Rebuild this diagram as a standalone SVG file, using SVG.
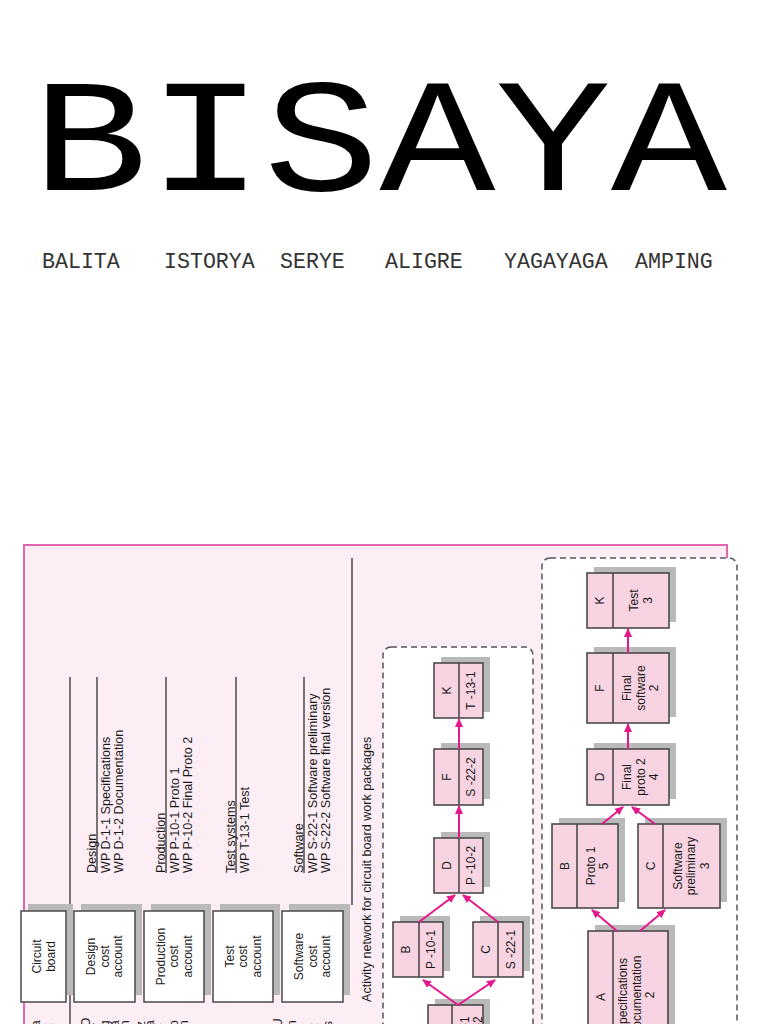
<svg xmlns="http://www.w3.org/2000/svg" width="768" height="1024" viewBox="0 0 768 1024">
<style>
.mono{font-family:'Liberation Mono','DejaVu Sans Mono',monospace;fill:#000}
.menu{fill:#333}
.t{font-family:'Liberation Sans',Arial,sans-serif;font-size:12px;fill:#1a1a1a}
.big{font-size:12.6px}
.c{text-anchor:middle}
.wb{fill:#fff;stroke:#4a4a4a;stroke-width:1.5}
.sh{fill:#b9b9b9}
.nd{fill:#f8d3e1;stroke:#4a4a4a;stroke-width:1.6}
.dv{stroke:#4a4a4a;stroke-width:1.6}
.ln{stroke:#555;stroke-width:1.6;fill:none}
.dash{fill:#fff;stroke:#555;stroke-width:1.5;stroke-dasharray:6 4}
.ar{stroke:#e5178b;stroke-width:2;fill:none;marker-end:url(#ah)}
</style>
<defs>
<marker id="ah" markerUnits="userSpaceOnUse" markerWidth="9" markerHeight="8" refX="8" refY="4" orient="auto">
<path d="M0,0 L9,4 L0,8 z" fill="#e5178b"/>
</marker>
</defs>
<rect width="768" height="1024" fill="#fff"/>
<g id="title">
<text class="mono" font-size="193" transform="translate(32,190) scale(1,0.84)">BISAYA</text>
</g>
<g id="menu" class="mono menu" font-size="21.6">
<text x="42" y="268">BALITA</text>
<text x="164" y="268">ISTORYA</text>
<text x="280" y="268">SERYE</text>
<text x="385" y="268">ALIGRE</text>
<text x="504" y="268">YAGAYAGA</text>
<text x="635" y="268">AMPING</text>
</g>
<g id="frame">
<rect x="24" y="545" width="703" height="520" fill="#fdeef5" stroke="#e466b0" stroke-width="2"/>
<line x1="352" y1="558" x2="352" y2="905" class="ln"/>
<line x1="70" y1="677" x2="70" y2="1030" class="ln"/>
<line x1="97" y1="677" x2="97" y2="873" class="ln"/>
<line x1="166" y1="677" x2="166" y2="873" class="ln"/>
<line x1="236" y1="677" x2="236" y2="873" class="ln"/>
<line x1="304" y1="677" x2="304" y2="873" class="ln"/>
</g>
<g id="wbs-text" class="t big">
<text transform="translate(96,873) rotate(-90)"><tspan x="0">Design</tspan><tspan x="0" dy="13.5">WP D-1-1 Specifications</tspan><tspan x="0" dy="13.5">WP D-1-2 Documentation</tspan></text>
<text transform="translate(165,873) rotate(-90)"><tspan x="0">Production</tspan><tspan x="0" dy="13.5">WP P-10-1 Proto 1</tspan><tspan x="0" dy="13.5">WP P-10-2 Final Proto 2</tspan></text>
<text transform="translate(235,873) rotate(-90)"><tspan x="0">Test systems</tspan><tspan x="0" dy="13.5">WP T-13-1 Test</tspan></text>
<text transform="translate(303,873) rotate(-90)"><tspan x="0">Software</tspan><tspan x="0" dy="13.5">WP S-22-1 Software preliminary</tspan><tspan x="0" dy="13.5">WP S-22-2 Software final version</tspan></text>
<text transform="translate(371,1002) rotate(-90)">Activity network for circuit board work packages</text>
</g>
<g id="circuit-board">
<rect class="sh" x="28" y="904" width="45" height="91"/>
<rect class="wb" x="21" y="911" width="45" height="91"/>
<text class="t c" transform="translate(41,956.5) rotate(-90)"><tspan x="0">Circuit</tspan><tspan x="0" dy="14">board</tspan></text>
</g>
<g id="design-account">
<rect class="sh" x="81" y="904" width="61" height="91"/>
<rect class="wb" x="74" y="911" width="61" height="91"/>
<text class="t c" transform="translate(95,956.5) rotate(-90)"><tspan x="0">Design</tspan><tspan x="0" dy="13.5">cost</tspan><tspan x="0" dy="13.5">account</tspan></text>
</g>
<g id="production-account">
<rect class="sh" x="151" y="904" width="60" height="91"/>
<rect class="wb" x="144" y="911" width="60" height="91"/>
<text class="t c" transform="translate(164.5,956.5) rotate(-90)"><tspan x="0">Production</tspan><tspan x="0" dy="13.5">cost</tspan><tspan x="0" dy="13.5">account</tspan></text>
</g>
<g id="test-account">
<rect class="sh" x="220" y="904" width="60" height="91"/>
<rect class="wb" x="213" y="911" width="60" height="91"/>
<text class="t c" transform="translate(233.5,956.5) rotate(-90)"><tspan x="0">Test</tspan><tspan x="0" dy="13.5">cost</tspan><tspan x="0" dy="13.5">account</tspan></text>
</g>
<g id="software-account">
<rect class="sh" x="289" y="904" width="61" height="91"/>
<rect class="wb" x="282" y="911" width="61" height="91"/>
<text class="t c" transform="translate(303,956.5) rotate(-90)"><tspan x="0">Software</tspan><tspan x="0" dy="13.5">cost</tspan><tspan x="0" dy="13.5">account</tspan></text>
</g>
<g id="fragments" class="t">
<text y="1027" x="40 52" rotate="-90 -90">at</text>
<text y="1027" x="90 100 109 119 129 137 145 154 161 169 178 188" rotate="-90 -90 -90 -90 -90 -90 -90 -90 -90 -90 -90 -90">Organization</text>
<text y="1027" x="282 296 307 318 332" rotate="-90 -90 -90 -90 -90">Units</text>
</g>
<g id="box-workpackages">
<rect class="dash" x="383" y="647" width="150" height="420" rx="8"/>
</g>
<g id="box-activities">
<rect class="dash" x="542" y="558" width="195" height="510" rx="8"/>
</g>
<g id="wp-K">
<rect class="sh" x="441" y="657" width="49" height="55"/>
<rect class="nd" x="434" y="663" width="49" height="55"/>
<line class="dv" x1="459" y1="663" x2="459" y2="718"/>
<text class="t c" transform="translate(450.5,690.5) rotate(-90)">K</text>
<text class="t c" transform="translate(475,690.5) rotate(-90)">T -13-1</text>
</g>
<g id="wp-F">
<rect class="sh" x="441" y="743" width="49" height="56"/>
<rect class="nd" x="434" y="749" width="49" height="56"/>
<line class="dv" x1="459" y1="749" x2="459" y2="805"/>
<text class="t c" transform="translate(450.5,777) rotate(-90)">F</text>
<text class="t c" transform="translate(475,777) rotate(-90)">S -22-2</text>
</g>
<g id="wp-D">
<rect class="sh" x="441" y="832" width="49" height="55"/>
<rect class="nd" x="434" y="838" width="49" height="55"/>
<line class="dv" x1="459" y1="838" x2="459" y2="893"/>
<text class="t c" transform="translate(450.5,865.5) rotate(-90)">D</text>
<text class="t c" transform="translate(475,865.5) rotate(-90)">P -10-2</text>
</g>
<g id="wp-B">
<rect class="sh" x="400" y="916" width="50" height="55"/>
<rect class="nd" x="393" y="922" width="50" height="55"/>
<line class="dv" x1="419" y1="922" x2="419" y2="977"/>
<text class="t c" transform="translate(410,949.5) rotate(-90)">B</text>
<text class="t c" transform="translate(435,949.5) rotate(-90)">P -10-1</text>
</g>
<g id="wp-C">
<rect class="sh" x="480" y="916" width="50" height="55"/>
<rect class="nd" x="473" y="922" width="50" height="55"/>
<line class="dv" x1="498" y1="922" x2="498" y2="977"/>
<text class="t c" transform="translate(489.5,949.5) rotate(-90)">C</text>
<text class="t c" transform="translate(514.5,949.5) rotate(-90)">S -22-1</text>
</g>
<g id="wp-A">
<rect class="sh" x="435" y="999" width="55" height="60"/>
<rect class="nd" x="428" y="1005" width="55" height="60"/>
<line class="dv" x1="452" y1="1005" x2="452" y2="1065"/>
<text class="t c" transform="translate(469,1033) rotate(-90)"><tspan x="0">D -1-1</tspan><tspan x="0" dy="13">D -1-2</tspan></text>
</g>
<g id="act-K">
<rect class="sh" x="594" y="567" width="82" height="55"/>
<rect class="nd" x="587" y="573" width="82" height="55"/>
<line class="dv" x1="613" y1="573" x2="613" y2="628"/>
<text class="t c" transform="translate(604,600.5) rotate(-90)">K</text>
<text class="t c" transform="translate(638,600.5) rotate(-90)"><tspan x="0">Test</tspan><tspan x="0" dy="13.5">3</tspan></text>
</g>
<g id="act-F">
<rect class="sh" x="594" y="647" width="82" height="70"/>
<rect class="nd" x="587" y="653" width="82" height="70"/>
<line class="dv" x1="613" y1="653" x2="613" y2="723"/>
<text class="t c" transform="translate(604,688) rotate(-90)">F</text>
<text class="t c" transform="translate(631,688) rotate(-90)"><tspan x="0">Final</tspan><tspan x="0" dy="13.5">software</tspan><tspan x="0" dy="13.5">2</tspan></text>
</g>
<g id="act-D">
<rect class="sh" x="594" y="743" width="82" height="56"/>
<rect class="nd" x="587" y="749" width="82" height="56"/>
<line class="dv" x1="613" y1="749" x2="613" y2="805"/>
<text class="t c" transform="translate(604,777) rotate(-90)">D</text>
<text class="t c" transform="translate(631,777) rotate(-90)"><tspan x="0">Final</tspan><tspan x="0" dy="13.5">proto 2</tspan><tspan x="0" dy="13.5">4</tspan></text>
</g>
<g id="act-B">
<rect class="sh" x="559" y="818" width="66" height="84"/>
<rect class="nd" x="552" y="824" width="66" height="84"/>
<line class="dv" x1="577" y1="824" x2="577" y2="908"/>
<text class="t c" transform="translate(568.5,866) rotate(-90)">B</text>
<text class="t c" transform="translate(594.5,866) rotate(-90)"><tspan x="0">Proto 1</tspan><tspan x="0" dy="13.5">5</tspan></text>
</g>
<g id="act-C">
<rect class="sh" x="645" y="818" width="82" height="84"/>
<rect class="nd" x="638" y="824" width="82" height="84"/>
<line class="dv" x1="663" y1="824" x2="663" y2="908"/>
<text class="t c" transform="translate(654.5,866) rotate(-90)">C</text>
<text class="t c" transform="translate(681.5,866) rotate(-90)"><tspan x="0">Software</tspan><tspan x="0" dy="13.5">preliminary</tspan><tspan x="0" dy="13.5">3</tspan></text>
</g>
<g id="act-A">
<rect class="sh" x="595" y="925" width="80" height="130"/>
<rect class="nd" x="588" y="931" width="80" height="130"/>
<line class="dv" x1="613" y1="931" x2="613" y2="1061"/>
<text class="t c" transform="translate(604.5,997) rotate(-90)">A</text>
<text class="t c" transform="translate(627,995) rotate(-90)"><tspan x="0">Specifications</tspan><tspan x="0" dy="13.5">documentation</tspan><tspan x="0" dy="13.5">2</tspan></text>
</g>
<g id="connectors">
<line class="ar" x1="459" y1="749" x2="459" y2="719"/>
<line class="ar" x1="459" y1="838" x2="459" y2="806"/>
<line class="ar" x1="419" y1="922" x2="455" y2="895"/>
<line class="ar" x1="498" y1="922" x2="463" y2="895"/>
<line class="ar" x1="458" y1="1005" x2="423" y2="980"/>
<line class="ar" x1="458" y1="1005" x2="495" y2="980"/>
<line class="ar" x1="628" y1="653" x2="628" y2="629"/>
<line class="ar" x1="628" y1="749" x2="628" y2="724"/>
<line class="ar" x1="602" y1="824" x2="623" y2="807"/>
<line class="ar" x1="655" y1="824" x2="632" y2="807"/>
<line class="ar" x1="617" y1="931" x2="592" y2="910"/>
<line class="ar" x1="640" y1="931" x2="665" y2="910"/>
</g>
</svg>
